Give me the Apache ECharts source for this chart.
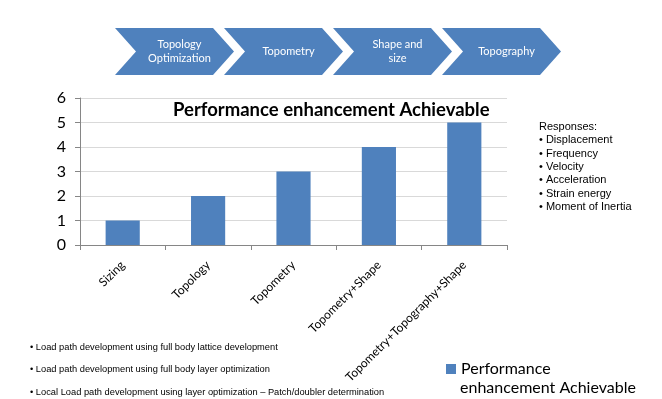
<!DOCTYPE html>
<html>
<head>
<meta charset="utf-8">
<script src="https://cdn.jsdelivr.net/npm/echarts@6/dist/echarts.min.js"></script>
<style>
html, body { margin: 0; padding: 0; background: #fff; }
#main { width: 662px; height: 399px; }
</style>
</head>
<body>
<div id="main"></div>
<script>
// categories and values
var categories = ['Sizing', 'Topology', 'Topometry', 'Topometry+Shape', 'Topometry+Topography+Shape'];
var values = [1, 2, 3, 4, 5];
var seriesName = 'Performance enhancement Achievable';
var yTicks = [0, 1, 2, 3, 4, 5, 6];
// process steps (chevrons)
var steps = ['Topology\nOptimization', 'Topometry', 'Shape and\nsize', 'Topography'];
var responses = ['Responses:', '\u2022 Displacement', '\u2022 Frequency', '\u2022 Velocity',
    '\u2022 Acceleration', '\u2022 Strain energy', '\u2022 Moment of Inertia'];
var notes = [
    '\u2022 Load path development using full body lattice development',
    '\u2022 Load path development using full body layer optimization',
    '\u2022 Local Load path development using layer optimization \u2013 Patch/doubler determination'
];

var blue = '#4F81BD';
var font = 'Lato, "Open Sans", sans-serif';

// chevrons
var graphics = [];
var chevX = 115, stepW = 109, bodyW = 98, tipW = 21, chevTop = 28, chevBot = 75;
for (var i = 0; i < steps.length; i++) {
    var l = chevX + i * stepW;
    var mid = (chevTop + chevBot) / 2;
    graphics.push({
        type: 'polygon',
        shape: { points: [[l, chevTop], [l + bodyW, chevTop], [l + bodyW + tipW, mid], [l + bodyW, chevBot], [l, chevBot], [l + tipW, mid]] },
        style: { fill: blue }
    });
    graphics.push({
        type: 'text',
        x: l + (bodyW + tipW) / 2 + 5, y: mid,
        style: { text: steps[i], fill: '#fff', font: '11px ' + font, align: 'center', verticalAlign: 'middle', lineHeight: 14 }
    });
}
// responses box
for (var j = 0; j < responses.length; j++) {
    graphics.push({
        type: 'text', x: 539, y: 127 + j * 13.3,
        style: { text: responses[j], fill: '#000', font: '11px "Liberation Sans", Arial, sans-serif', verticalAlign: 'middle' }
    });
}
// notes at the bottom
for (var k = 0; k < notes.length; k++) {
    graphics.push({
        type: 'text', x: 30, y: 347 + k * 22.5,
        style: { text: notes[k], fill: '#000', font: '9.3px "Liberation Sans Narrow", "Liberation Sans", sans-serif', verticalAlign: 'middle' }
    });
}
// second line of the legend label
graphics.push({
    type: 'text', x: 460, y: 388,
    style: { text: 'enhancement Achievable', fill: '#000', font: '16px ' + font, verticalAlign: 'middle' }
});

var chart = echarts.init(document.getElementById('main'));
chart.setOption({
    animation: false,
    backgroundColor: '#fff',
    textStyle: { fontFamily: font },
    title: {
        text: seriesName,
        left: 168, top: 96,
        textStyle: { fontSize: 18.5, fontWeight: 'bold', color: '#000', fontFamily: font }
    },
    grid: { left: 80, right: 155, top: 98, bottom: 154 },
    legend: {
        data: [seriesName],
        left: 441, top: 356,
        icon: 'rect', itemWidth: 10, itemHeight: 10, itemGap: 4,
        formatter: function () { return 'Performance'; },
        textStyle: { fontSize: 16, color: '#000', fontFamily: font }
    },
    xAxis: {
        type: 'category',
        data: categories,
        axisLine: { lineStyle: { color: '#868686' } },
        axisTick: { show: true, length: 5, lineStyle: { color: '#868686' } },
        axisLabel: { rotate: 45, fontSize: 12, color: '#000', margin: 18, interval: 0 }
    },
    yAxis: {
        type: 'value',
        min: yTicks[0], max: yTicks[yTicks.length - 1], interval: 1,
        axisLine: { show: true, lineStyle: { color: '#868686' } },
        axisTick: { show: true, length: 5, lineStyle: { color: '#868686' } },
        axisLabel: { fontSize: 16, color: '#000', margin: 14 },
        splitLine: { lineStyle: { color: '#d9d9d9', width: 1 } }
    },
    series: [{
        name: seriesName,
        type: 'bar',
        data: values,
        barWidth: '40%',
        itemStyle: { color: blue }
    }],
    graphic: graphics
});
</script>
</body>
</html>
